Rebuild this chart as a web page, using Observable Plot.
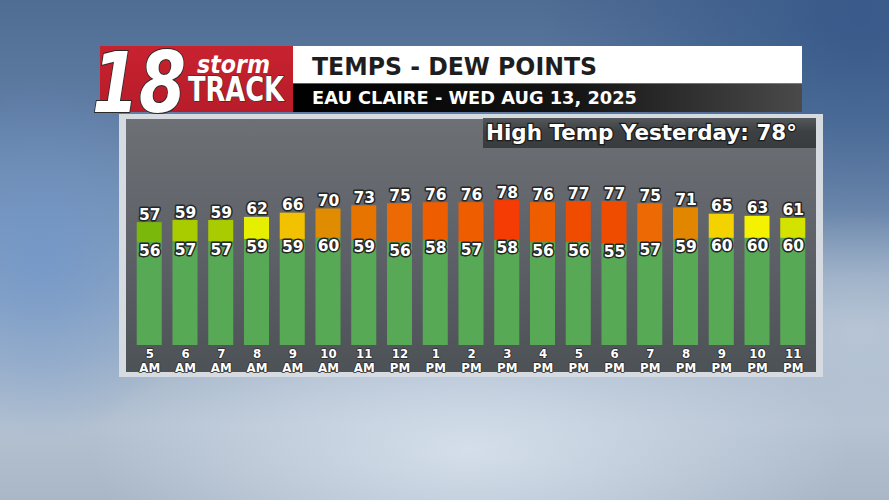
<!DOCTYPE html>
<html>
<head>
<meta charset="utf-8">
<script src="https://cdn.jsdelivr.net/npm/d3@7"></script>
<script src="https://cdn.jsdelivr.net/npm/@observablehq/plot@0.6"></script>
<style>
  html, body { margin: 0; padding: 0; }
  #stage {
    position: relative; width: 889px; height: 500px; overflow: hidden;
    font-family: "DejaVu Sans", sans-serif;
    background:
      radial-gradient(ellipse 380px 150px at 470px 450px, rgba(214,224,236,0.95), rgba(214,224,236,0)),
      radial-gradient(ellipse 300px 120px at 860px 330px, rgba(200,210,222,0.6), rgba(200,210,222,0)),
      radial-gradient(ellipse 320px 260px at 860px 20px, rgba(52,86,136,0.85), rgba(52,86,136,0)),
      radial-gradient(ellipse 160px 180px at 40px 260px, rgba(110,150,205,0.7), rgba(110,150,205,0)),
      linear-gradient(180deg, #4f6c93 0%, #5f7ca3 22%, #7d97b7 45%, #9fb2c8 68%, #b3c1d1 85%, #a9b7c7 100%);
  }
  #decor { position: absolute; left: 0; top: 0; }
  #chart { position: absolute; left: 126px; top: 119px; }
  #chart svg { background: transparent; overflow: visible; }
</style>
</head>
<body>
<div id="stage">
  <svg id="decor" width="889" height="500" xmlns="http://www.w3.org/2000/svg">
    <defs>
      <linearGradient id="panelGrad" x1="0" y1="0" x2="0" y2="1">
        <stop offset="0" stop-color="#6d7075"/>
        <stop offset="0.5" stop-color="#5e6268"/>
        <stop offset="1" stop-color="#4d5257"/>
      </linearGradient>
      <linearGradient id="subGrad" x1="0" y1="0" x2="1" y2="0">
        <stop offset="0" stop-color="#000"/>
        <stop offset="0.55" stop-color="#141414"/>
        <stop offset="1" stop-color="#4a4a4a"/>
      </linearGradient>
      <linearGradient id="htGrad" x1="0" y1="0" x2="0" y2="1">
        <stop offset="0" stop-color="#55585b"/>
        <stop offset="0.45" stop-color="#3d4043"/>
        <stop offset="1" stop-color="#393c3f"/>
      </linearGradient>
      <linearGradient id="redGrad" x1="0" y1="0" x2="0" y2="1">
        <stop offset="0" stop-color="#c8222f"/>
        <stop offset="1" stop-color="#b81c2a"/>
      </linearGradient>
    </defs>
    <!-- panel -->
    <rect x="119" y="114" width="704" height="263" fill="#d6dbe1"/>
    <rect x="126" y="119" width="690" height="253" fill="url(#panelGrad)"/>
    <!-- high temp box -->
    <rect x="483" y="118" width="333" height="30" fill="url(#htGrad)"/>
    <text x="486" y="139.5" font-size="20.5" font-weight="bold" fill="#fff" stroke="#1c1c1c" stroke-width="2.5" paint-order="stroke" textLength="311" lengthAdjust="spacingAndGlyphs">High Temp Yesterday: 78°</text>
    <!-- header -->
    <rect x="293" y="46" width="509" height="37.5" fill="#fff"/>
    <rect x="293" y="83.5" width="509" height="28.5" fill="url(#subGrad)"/>
    <text x="312" y="75" font-size="24.5" font-weight="bold" fill="#1e1e1e" textLength="285" lengthAdjust="spacingAndGlyphs">TEMPS - DEW POINTS</text>
    <text x="312" y="104.3" font-size="17.5" font-weight="bold" fill="#fff" textLength="325" lengthAdjust="spacingAndGlyphs">EAU CLAIRE - WED AUG 13, 2025</text>
    <!-- logo -->
    <rect x="100" y="46" width="193" height="66" fill="url(#redGrad)"/>
    <text x="92" y="112" font-size="84" font-weight="bold" font-style="italic" fill="#fff" stroke="#2a2a2a" stroke-width="2" paint-order="stroke" textLength="94" lengthAdjust="spacingAndGlyphs">18</text>
    <text x="197" y="72.5" font-size="25" font-weight="bold" font-style="italic" fill="#fff" textLength="73" lengthAdjust="spacingAndGlyphs">storm</text>
    <text x="188" y="100.5" font-size="33" font-weight="bold" fill="#fff" stroke="#2a2a2a" stroke-width="1" paint-order="stroke" textLength="96" lengthAdjust="spacingAndGlyphs">TRACK</text>
  </svg>
  <div id="chart"></div>
</div>
<script>
// ---- data ----
const hours = ["5 AM","6 AM","7 AM","8 AM","9 AM","10 AM","11 AM","12 PM","1 PM","2 PM","3 PM","4 PM","5 PM","6 PM","7 PM","8 PM","9 PM","10 PM","11 PM"];
const temps = [57,59,59,62,66,70,73,75,76,76,78,76,77,77,75,71,65,63,61];
const dewPoints = [56,57,57,59,59,60,59,56,58,57,58,56,56,55,57,59,60,60,60];
// temperature color ramp (scale definition)
const colorStops = [57,59,61,62,63,65,66,70,71,73,75,76,77,78];
const colorRange = ["#7ab80c","#a8cc00","#d4e200","#e6ef00","#f4f200","#f4d200","#f2c200","#e08c00","#e28600","#e87400","#ec6904","#ee5d00","#f04c00","#f43c04"];

const data = hours.map((h, i) => ({hour: h, temp: temps[i], dew: dewPoints[i]}));

// layout constants
const BASE = -42;   // scale value at the bar baseline
const GAP = 18;     // minimum height (in scale units) of the temperature cap
const labelStyle = {fill: "white", stroke: "#262626", strokeWidth: 3, paintOrder: "stroke", fontWeight: "bold"};

const chart = Plot.plot({
  width: 690,
  height: 253,
  marginLeft: 0,
  marginRight: 0,
  marginTop: 0,
  marginBottom: 27,
  style: {fontFamily: "DejaVu Sans, sans-serif", background: "transparent", overflow: "visible"},
  x: {domain: hours, padding: 0.3, round: false, label: null},
  y: {domain: [BASE, BASE + 215.2], axis: null},
  color: {type: "linear", domain: colorStops, range: colorRange},
  marks: [
    Plot.barY(data, {x: "hour", y1: BASE, y2: "dew", fill: "#58a955"}),
    Plot.barY(data, {x: "hour", y1: "dew", y2: d => d.temp + GAP, fill: "temp"}),
    Plot.text(data, {x: "hour", y: d => d.temp + GAP, text: d => String(d.temp), dy: -3, lineAnchor: "bottom", fontSize: 15.5, ...labelStyle}),
    Plot.text(data, {x: "hour", y: "dew", text: d => String(d.dew), dy: 2, lineAnchor: "top", fontSize: 15.5, ...labelStyle}),
    Plot.axisX({
      tickSize: 0, tickPadding: 3, fontSize: 11.8, fontWeight: "bold", fill: "white",
      textStroke: "#2a2a2a", textStrokeWidth: 1.5, lineHeight: 1.15, label: null,
      tickFormat: d => d.replace(" ", "\n")
    })
  ]
});
document.getElementById("chart").appendChild(chart);
</script>
</body>
</html>
